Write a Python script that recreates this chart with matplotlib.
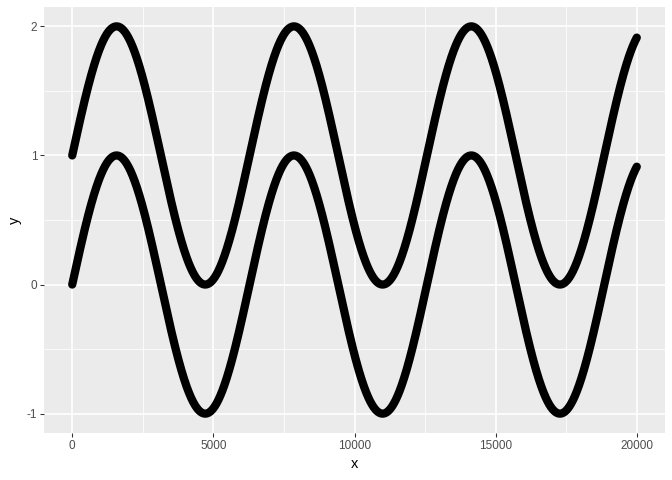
import numpy as np
import matplotlib
matplotlib.use("Agg")
import matplotlib.pyplot as plt

plt.rcParams["font.family"] = ["Liberation Sans", "DejaVu Sans"]

# Data: points x = 0..20000, y = sin(x/1000) and sin(x/1000) + 1
x_vals = np.arange(0, 20001, 1)
y_lower = np.sin(x_vals / 1000.0)
y_upper = y_lower + 1.0

x_ticks = [0, 5000, 10000, 15000, 20000]
x_minor = [2500, 7500, 12500, 17500]
y_ticks = [-1, 0, 1, 2]
y_minor = [-0.5, 0.5, 1.5]

fig = plt.figure(figsize=(7, 5), dpi=96)
ax = fig.add_axes([44 / 672, 1 - 433 / 480, (665 - 44) / 672, (433 - 7) / 480])
ax.set_facecolor("#EBEBEB")
for s in ax.spines.values():
    s.set_visible(False)

for v in x_ticks:
    ax.axvline(v, color="white", lw=1.2, zorder=1)
for v in x_minor:
    ax.axvline(v, color="white", lw=0.6, zorder=1)
for v in y_ticks:
    ax.axhline(v, color="white", lw=1.2, zorder=1)
for v in y_minor:
    ax.axhline(v, color="white", lw=0.6, zorder=1)

for yy in (y_lower, y_upper):
    ax.plot(x_vals, yy, color="black", lw=6.2, solid_capstyle="round", zorder=3)

ax.set_xlim(-1000, 21000)
ax.set_ylim(-1.15, 2.15)
ax.set_xticks(x_ticks)
ax.set_xticklabels([str(v) for v in x_ticks])
ax.set_yticks(y_ticks)
ax.set_yticklabels([str(v) for v in y_ticks])
ax.tick_params(axis="both", which="major", length=2.75, width=0.8, color="#333333",
               labelsize=8.8, labelcolor="#4D4D4D", pad=2.2)
ax.set_xlabel("x", fontsize=11, color="black", labelpad=4)
ax.set_ylabel("y", fontsize=11, color="black", labelpad=4)

fig.savefig("out.png", dpi=96)
